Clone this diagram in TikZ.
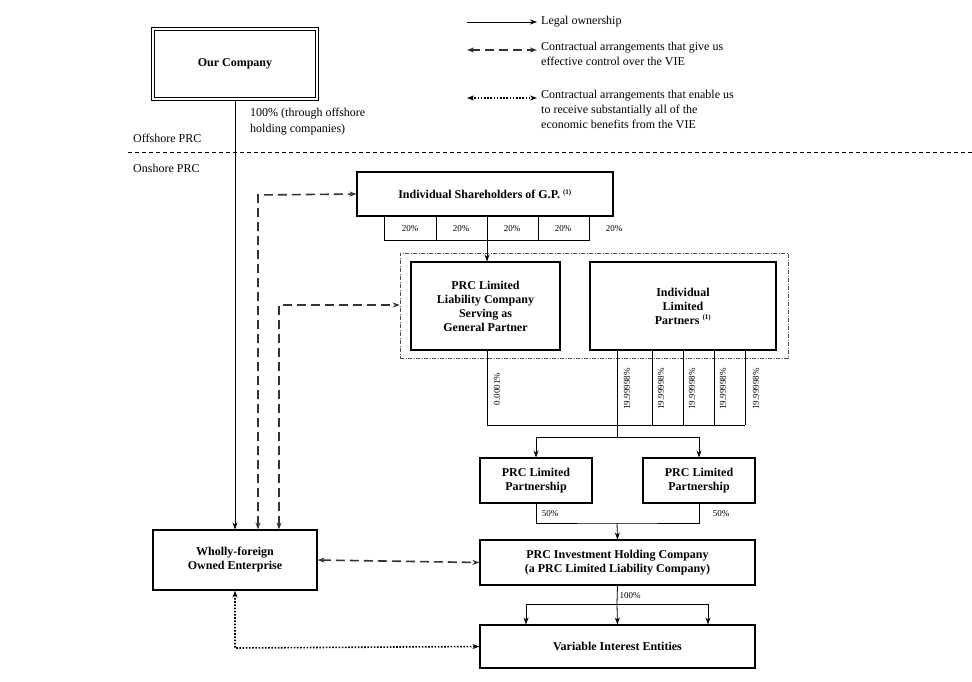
\documentclass[tikz,border=0pt]{standalone}
\usepackage{fontspec}
\setmainfont{Liberation Serif}
\usetikzlibrary{arrows.meta}
\begin{document}
\begin{tikzpicture}[x=1pt,y=-1pt,
  box/.style={draw,line width=1.1pt,inner sep=0pt,align=center,font=\bfseries\fontsize{12}{14}\selectfont},
  lbl/.style={inner sep=0pt,align=left,anchor=west,font=\fontsize{12}{15}\selectfont},
  pct/.style={inner sep=0pt,font=\fontsize{9}{10}\selectfont},
  tip/.style={-{Stealth[length=7pt,width=5pt]}},
  tips/.style={{Stealth[length=7pt,width=5pt]}-{Stealth[length=7pt,width=5pt]}},
  dsh/.style={line width=1.6pt,dash pattern=on 9pt off 5pt,gray!40!black},
  dot/.style={line width=1.6pt,dash pattern=on 1.6pt off 1.6pt}]
\useasboundingbox (0,0) rectangle (972,682);
% Legend
\coordinate (l1a) at (467,22); \coordinate (l1b) at (537,22);
\draw[tip,line width=0.8pt] (l1a) -- (l1b);
\node[lbl] (t1) at (541,22) {Legal ownership};
\coordinate (l2a) at (467,50); \coordinate (l2b) at (537,50);
\draw[tips,dsh] (l2a) -- (l2b);
\node[lbl,anchor=north west] (t2) at (541,42) {Contractual arrangements that give us\\effective control over the VIE};
\coordinate (l3a) at (467,98); \coordinate (l3b) at (537,98);
\draw[tips,dot] (l3a) -- (l3b);
\node[lbl,anchor=north west] (t3) at (541,90) {Contractual arrangements that enable us\\to receive substantially all of the\\economic benefits from the VIE};
% separator
\coordinate (s1) at (128,153); \coordinate (s2) at (972,153);
\draw[line width=1pt,dash pattern=on 4pt off 3pt] (s1) -- (s2);
\node[lbl] (off) at (133,138) {Offshore PRC};
\node[lbl] (on) at (133,168) {Onshore PRC};
% boxes
\node[box,double,double distance=2pt,minimum width=164pt,minimum height=70pt] (our) at (235,64) {Our Company};
\node[lbl,anchor=north west,font=\fontsize{12}{16}\selectfont] (o100) at (250,108) {100\% (through offshore\\holding companies)};
\node[box,minimum width=256pt,minimum height=44pt] (ish) at (485,194) {Individual Shareholders of G.P. \textsuperscript{\fontsize{7}{8}\selectfont (1)}};
\node[draw,dash pattern=on 4pt off 1.5pt on 1pt off 1.5pt,line width=0.6pt,gray!60!black,minimum width=388pt,minimum height=105pt,inner sep=0pt] (encl) at (594,305.5) {};
\node[box,minimum width=149pt,minimum height=88pt] (llc) at (485.5,306) {PRC Limited\\Liability Company\\Serving as\\General Partner};
\node[box,minimum width=186pt,minimum height=88pt] (ilp) at (683,306) {Individual\\Limited\\Partners \textsuperscript{\fontsize{7}{8}\selectfont (1)}};
\node[box,minimum width=112pt,minimum height=45pt] (lp1) at (536,480.5) {PRC Limited\\Partnership};
\node[box,minimum width=112pt,minimum height=45pt] (lp2) at (699,480.5) {PRC Limited\\Partnership};
\node[box,minimum width=275pt,minimum height=45pt] (pih) at (617.5,562.5) {PRC Investment Holding Company\\(a PRC Limited Liability Company)};
\node[box,minimum width=275pt,minimum height=43pt] (vie) at (617.5,646.5) {Variable Interest Entities};
\node[box,minimum width=164pt,minimum height=60pt] (wfoe) at (235,560) {Wholly-foreign\\Owned Enterprise};
% 20% cells
\draw[line width=0.8pt] (384,216) -- (384,240) -- (589,240) -- (589,216);
\foreach \x in {436,538} \draw[line width=0.8pt] (\x,216) -- (\x,240);
\foreach \x/\n in {410/a,461/b,512/c,563/d,614/e} \node[pct] (p\n) at (\x,229) {20\%};
\draw[tip,line width=0.8pt] (ish.south -| llc.north) ++(1.5,0) coordinate (ia) -- (ia |- llc.north);
% percentage columns
\coordinate (c0) at (487,425); \coordinate (c1) at (617,425);
\draw[line width=0.8pt] (llc.south -| c0) -- (c0) -- (745,425);
\foreach \x in {652,683,714,745} \draw[line width=0.8pt] (\x,350) -- (\x,425);
\node[pct,rotate=90] (q0) at (497,389) {0.0001\%};
\foreach \x/\n in {627/a,661/b,692/c,723/d,756/e} \node[pct,rotate=90] (q\n) at (\x,389) {19.99998\%};
\coordinate (j1) at (617,437);
\draw[line width=0.8pt] (ilp.south -| c1) -- (j1);
\draw[tip,line width=0.8pt] (j1) -| (lp1.north);
\draw[tip,line width=0.8pt] (j1) -| (lp2.north);
% 50%
\coordinate (j2) at (617,523);
\draw[line width=0.8pt] (lp1.south) |- (j2) -| (lp2.south);
\draw[tip,line width=0.8pt] (j2) -- (pih.north);
\node[pct] (f1) at (550,514) {50\%};
\node[pct] (f2) at (721,514) {50\%};
% 100%
\coordinate (j3) at (617,604);
\draw[line width=0.8pt] (pih.south) -- (j3);
\draw[tip,line width=0.8pt] (j3) -- (vie.north);
\draw[tip,line width=0.8pt] (j3) -| (vie.north -| 526,0);
\draw[tip,line width=0.8pt] (j3) -| (vie.north -| 708,0);
\node[pct] (h1) at (630,596) {100\%};
% legal ownership
\draw[tip,line width=0.8pt] (our.south) -- (wfoe.north);
% dashed
\coordinate (d1) at (258,195); \coordinate (d2) at (279,305);
\draw[tips,dsh] (wfoe.north -| d1) -- (d1) -- (ish.west);
\draw[tips,dsh] (wfoe.north -| d2) -- (d2) -- (encl.west |- d2);
\draw[tips,dsh] (wfoe.east) -- (pih.west);
% dotted
\coordinate (e1) at (235,648);
\draw[tips,dot] (wfoe.south) -- (e1) -- (vie.west);
\end{tikzpicture}
\end{document}
